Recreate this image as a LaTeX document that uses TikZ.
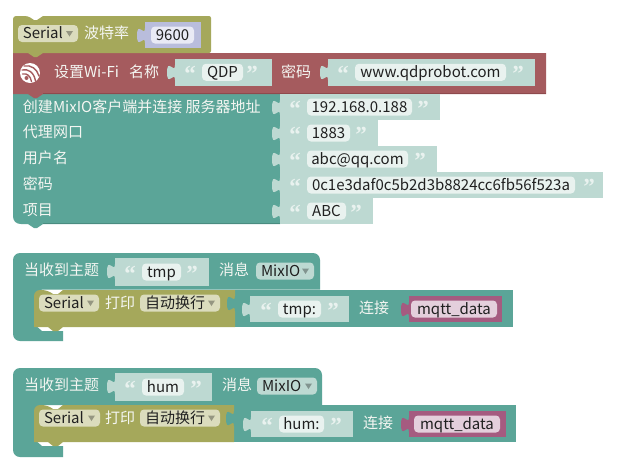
\documentclass[tikz,border=0pt]{standalone}
\usepackage{fontspec}
\setmainfont{Noto Sans CJK SC}
\newfontfamily\qfont{Liberation Serif}
\definecolor{cteal}{HTML}{5BA598}
\definecolor{cteald}{HTML}{4A8C80}
\definecolor{colive}{HTML}{A5A85B}
\definecolor{coliveb}{HTML}{8C8F49}
\definecolor{cred}{HTML}{A55B5E}
\definecolor{credd}{HTML}{8E4A4D}
\definecolor{cstr}{HTML}{BDD9D2}
\definecolor{cstrf}{HTML}{E9F2EF}
\definecolor{cnum}{HTML}{B9BDDC}
\definecolor{cnumf}{HTML}{E9EAF5}
\definecolor{cpur}{HTML}{A55B80}
\definecolor{cpurf}{HTML}{E4CFDC}
\definecolor{cdol}{HTML}{DBDCBD}
\definecolor{cdte}{HTML}{BDD9D2}
\definecolor{ctxt}{HTML}{F4F6F2}
\definecolor{cink}{HTML}{202020}
\tikzset{
  x=1pt,y=-1pt,
  base text/.style={inner sep=0pt,outer sep=0pt,text height=12pt,text depth=1.5pt,font=\fontsize{15}{18}\selectfont},
  lab/.style={base text,anchor=west,text=ctxt},
  ink/.style={base text,anchor=west,text=cink},
  fieldbox/.style={base text,text=cink,rounded corners=4pt,minimum height=17pt,align=center},
  quote/.style={inner sep=0pt,outer sep=0pt,text=cstrf,font=\qfont\bfseries\fontsize{23}{23}\selectfont},
}
% puzzle tab on a left edge: x, top y, colour
\newcommand{\ptab}[3]{\fill[#3] (#1,#2) .. controls (#1,#2+10) and (#1-8,#2-8) .. (#1-8,#2+7.5) .. controls (#1-8,#2+23) and (#1,#2+5) .. (#1,#2+15) -- (#1+1,#2+15) -- (#1+1,#2) -- cycle;}
% field: name, x1, x2, cy, fill, text
\newcommand{\fld}[6]{\node[fieldbox,fill=#5,minimum width={#3-#2}] (#1) at ({(#2+#3)/2},#4) {#6};}
% dropdown: name, x1, x2, cy, fill, text
\newcommand{\drop}[6]{\node[base text,fill=#5,rounded corners=4pt,minimum height=17pt,minimum width={#3-#2}] (#1) at ({(#2+#3)/2},#4) {};
  \node[ink] (#1t) at (#2+5,#4) {#6};
  \fill[black!32!#5] (#3-12,#4-2.5) -- (#3-5,#4-2.5) -- (#3-8.5,#4+3) -- cycle;}
% string block: name, x1, x2, y1, y2, field x1, field x2, close-quote x, text
\newcommand{\strb}[9]{\fill[cstr] (#2,#4) rectangle (#3,#5);
  \ptab{#2}{#4+6}{cstr}
  \node[quote] (#1o) at (#6-12,{(#4+#5)/2+1.5}) {“};
  \fld{#1}{#6}{#7}{{(#4+#5)/2}}{cstrf}{#9}
  \node[quote] (#1c) at (#8,{(#4+#5)/2+1.5}) {”};}
\begin{document}
\begin{tikzpicture}
\useasboundingbox (0,0) rectangle (637,469);
\fill[white] (0,0) rectangle (637,469);

% --- teal MixIO block
\fill[cteal] (13,94) -- (280,94) -- (280,224) -- (43,224) -- (37,228) -- (34,228) -- (28,224) -- (21,224) .. controls (16,224) and (13,221) .. (13,216) -- cycle;
\draw[cteald,line width=.7pt] (43,223.7) -- (280,223.7);
% --- red wifi block
\fill[cred] (13,53) -- (546,53) -- (546,94) -- (43,94) -- (37,98) -- (34,98) -- (28,94) -- (13,94) -- cycle;
\draw[credd,line width=.6pt] (43,93.7) -- (546,93.7);
% --- olive serial block
\fill[colive,rounded corners=3pt] (13,53) -- (13,16) -- (28,16) [sharp corners] -- (34,20) -- (37,20) -- (43,16) [rounded corners=2pt] -- (211,16) -- (211,53) [sharp corners] -- (43,53) -- (37,57) -- (34,57) -- (28,53) -- cycle;

\drop{serialA}{18}{78}{33.5}{cdol}{Serial}
\node[lab] (baud) at (84,33.5) {波特率};
\fill[cnum] (145,22) rectangle (201,48);
\ptab{145}{28}{cnum}
\fld{num}{151}{194}{35}{cnumf}{9600}

% wifi icon
\fill[white] (30,73) circle (10);
\begin{scope}[cred,line width=1.4pt,line cap=round]
  \draw (22,70) .. controls (28,68.5) and (34,72) .. (35.5,81);
  \draw (22.5,74) .. controls (27,73) and (30.5,76) .. (31.5,81.5);
  \draw (24,66) .. controls (31,64.5) and (37,69) .. (39,76);
\end{scope}
\fill[cred] (26.5,78) circle (2);

\node[lab] (wifi) at (54,72) {设置Wi-Fi};
\node[lab] (wname) at (129,72) {名称};
\strb{qdp}{175}{272}{59}{85.5}{202}{243}{252}{QDP}
\node[lab] (wpwd) at (281,72) {密码};
\strb{site}{328}{535}{59}{85.5}{355}{506}{518}{www.qdprobot.com}

% MixIO labels
\node[lab] (m1) at (23,107) {创建MixIO客户端并连接 服务器地址};
\node[lab] (m2) at (23,132.5) {代理网口};
\node[lab] (m3) at (23,158.5) {用户名};
\node[lab] (m4) at (23,184.5) {密码};
\node[lab] (m5) at (23,210.5) {项目};
\strb{ip}{280}{440}{94}{120}{307}{412}{423}{192.168.0.188}
\strb{port}{280}{378}{120}{146}{307}{350}{361}{1883}
\strb{user}{280}{437}{146}{172}{307}{408}{420}{abc@qq.com}
\strb{pass}{280}{603}{172}{198}{307}{575}{589}{0c1e3daf0c5b2d3b8824cc6fb56f523a}
\strb{proj}{280}{373}{198}{224}{307}{346}{356}{ABC}

% --- tmp block
\fill[cteal,rounded corners=7pt] (13,253) -- (320,253) [sharp corners] -- (320,289.5) -- (42,289.5) -- (34,297) -- (34,324) -- (42,331) -- (63,331) -- (63,341) [rounded corners=7pt] -- (13,341) -- cycle;
\node[lab] (t1) at (24,270) {当收到主题};
\strb{tmp}{115}{209}{258}{286}{142}{181}{192}{tmp}
\node[lab] (t2) at (219,270) {消息};
\drop{tmix}{256}{314}{271}{cdte}{MixIO}
\fill[cteal] (235,290) rectangle (513,327);
\fill[colive,rounded corners=6pt] (34,327) -- (34,290) -- (48,290) [sharp corners] -- (53,294) -- (58,294) -- (63,290) -- (235,290) -- (235,327) -- (63,327) -- (58,331) -- (53,331) -- (48,327) -- cycle;
\ptab{235}{296}{cteal}
\drop{serialB}{39}{99}{303}{cdol}{Serial}
\node[lab] (t3) at (105,303) {打印};
\drop{lineB}{140}{220}{303}{cdol}{自动换行}
\strb{tmpk}{250}{349}{296}{322}{278}{321}{333}{tmp:}
\node[lab] (t4) at (359,308) {连接};
\fill[cpur] (409,296) rectangle (502,322);
\ptab{409}{302}{cpur}
\fld{tmpd}{411}{497}{309}{cpurf}{mqtt\_data}

% --- hum block
\fill[cteal,rounded corners=7pt] (13,368) -- (322,368) [sharp corners] -- (322,405) -- (42,405) -- (34,412) -- (34,439) -- (42,446) -- (63,446) -- (63,457) [rounded corners=7pt] -- (13,457) -- cycle;
\node[lab] (h1) at (24,385) {当收到主题};
\strb{hum}{115}{212}{373}{401}{142}{184}{196}{hum}
\node[lab] (h2) at (222,385) {消息};
\drop{hmix}{257}{317}{386}{cdte}{MixIO}
\fill[cteal] (234,405) rectangle (516,442);
\fill[colive,rounded corners=6pt] (34,442) -- (34,405) -- (48,405) [sharp corners] -- (53,409) -- (58,409) -- (63,405) -- (234,405) -- (234,442) -- (63,442) -- (58,446) -- (53,446) -- (48,442) -- cycle;
\ptab{234}{411}{cteal}
\drop{serialC}{39}{100}{418}{cdol}{Serial}
\node[lab] (h3) at (105,418) {打印};
\drop{lineC}{140}{220}{418}{cdol}{自动换行}
\strb{humk}{251}{353}{411}{437}{279}{324}{336}{hum:}
\node[lab] (h4) at (363,423) {连接};
\fill[cpur] (409,411) rectangle (506,437);
\ptab{409}{417}{cpur}
\fld{humd}{414}{500}{424}{cpurf}{mqtt\_data}
\end{tikzpicture}
\end{document}
